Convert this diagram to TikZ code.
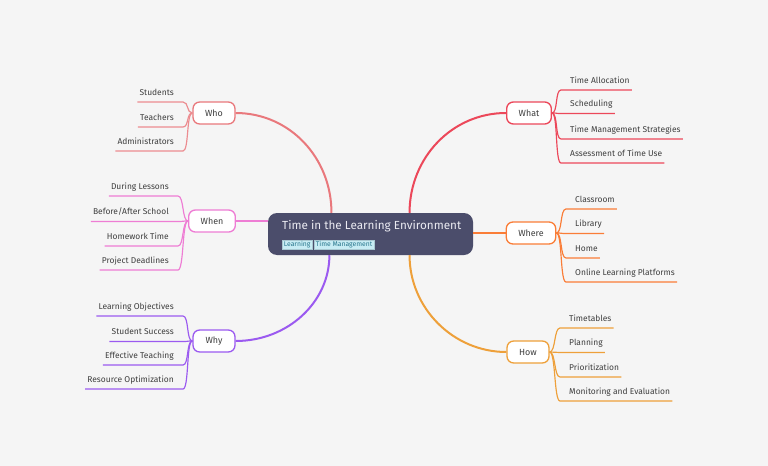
\documentclass[tikz,border=0pt]{standalone}
\usepackage{fontspec}
\setmainfont{Fira Sans}
\usetikzlibrary{calc}
\definecolor{paperGray}{RGB}{245,245,245}
\definecolor{slateBox}{RGB}{75,77,107}
\definecolor{titleInk}{RGB}{235,235,242}
\definecolor{tagFill}{RGB}{200,236,244}
\definecolor{tagInk}{RGB}{40,118,140}
\definecolor{leafInk}{RGB}{62,62,62}
\definecolor{whoRed}{RGB}{233,120,124}
\definecolor{whenPink}{RGB}{238,125,212}
\definecolor{whyPurple}{RGB}{155,90,240}
\definecolor{whatRed}{RGB}{236,72,90}
\definecolor{whereOrange}{RGB}{250,125,55}
\definecolor{howAmber}{RGB}{238,160,58}
\tikzset{
  centreBox/.style={
    fill=slateBox,
    rounded corners=2.7mm,
    minimum width=61.5mm,
    minimum height=12.6mm
  },
  titleText/.style={
    anchor=west,
    inner sep=0pt,
    font=\fontsize{10}{12}\selectfont\color{titleInk}
  },
  tagBox/.style={
    anchor=west,
    fill=tagFill,
    draw=tagInk!40,
    line width=0.15mm,
    inner xsep=0.5mm,
    inner ysep=0pt,
    minimum height=2.7mm,
    font=\fontsize{5.8}{6}\selectfont\color{tagInk}
  },
  topicNode/.style={
    fill=white,
    line width=0.4mm,
    rounded corners=2mm,
    minimum width=12.6mm,
    minimum height=6.6mm,
    inner xsep=3.6mm,
    inner ysep=0pt,
    font=\fontsize{7.6}{9}\selectfont\color{leafInk}
  },
  leafLeft/.style={
    anchor=south east,
    inner xsep=0.6mm,
    inner ysep=2mm,
    text height=2mm,
    text depth=0pt,
    font=\fontsize{7.2}{9}\selectfont\color{leafInk}
  },
  leafRight/.style={
    leafLeft,
    anchor=south west
  },
  mainLine/.style={line width=0.6mm},
  leafLine/.style={line width=0.35mm}
}

\begin{document}
\begin{tikzpicture}[x=0.3mm, y=-0.3mm]
  % Paper
  \useasboundingbox (0,0) rectangle (768,466);
  \fill[paperGray] (0,0) rectangle (768,466);

  % Central topic
  \node[centreBox] (centre) at (370.5,234) {};
  \node[titleText] (title) at (282,226) {Time in the Learning Environment};
  \node[tagBox] (tagA) at (282,244.5) {Learning};
  \node[tagBox] (tagB) at ($(tagA.east)+(1.5,0)$) {Time Management};

  % Main topics
  \node[topicNode, draw=whoRed] (who) at (214,113) {Who};
  \node[topicNode, draw=whenPink] (when) at (212,221) {When};
  \node[topicNode, draw=whyPurple] (why) at (214,341) {Why};
  \node[topicNode, draw=whatRed] (what) at (529,113) {What};
  \node[topicNode, draw=whereOrange] (where) at (531,233) {Where};
  \node[topicNode, draw=howAmber] (how) at (528,352) {How};

  % Main connectors
  \draw[mainLine, whoRed] ($(centre.north west)!0.31!(centre.north east)$)
    .. controls +(0,-55) and +(54,0) .. (who.east);
  \draw[mainLine, whenPink] (centre.west |- when.east) -- (when.east);
  \draw[mainLine, whyPurple] ($(centre.south west)!0.30!(centre.south east)$)
    .. controls +(0,47) and +(52,0) .. (why.east);
  \draw[mainLine, whatRed] ($(centre.north west)!0.69!(centre.north east)$)
    .. controls +(0,-55) and +(-54,0) .. (what.west);
  \draw[mainLine, whereOrange] (centre.east |- where.west) -- (where.west);
  \draw[mainLine, howAmber] ($(centre.south west)!0.69!(centre.south east)$)
    .. controls +(0,53) and +(-53,0) .. (how.west);

  % Who
  \node[leafLeft] (students) at (176,102) {Students};
  \node[leafLeft] (teachers) at (176,127) {Teachers};
  \node[leafLeft] (admins) at (176,151) {Administrators};
  \draw[leafLine, whoRed!85] (who.west) .. controls +(-6,0) and +(6,0) .. ($(students.south east)+(7,0)$) -- (students.south west);
  \draw[leafLine, whoRed!85] (who.west) .. controls +(-6,0) and +(6,0) .. ($(teachers.south east)+(7,0)$) -- (teachers.south west);
  \draw[leafLine, whoRed!85] (who.west) .. controls +(-6,0) and +(6,0) .. ($(admins.south east)+(7,0)$) -- (admins.south west);

  % When
  \node[leafLeft] (lessons) at (171,196) {During Lessons};
  \node[leafLeft] (school) at (171,221.5) {Before/After School};
  \node[leafLeft] (homework) at (171,246) {Homework Time};
  \node[leafLeft] (deadlines) at (171,270) {Project Deadlines};
  \draw[leafLine, whenPink] (when.west) .. controls +(-6,0) and +(6,0) .. ($(lessons.south east)+(7,0)$) -- (lessons.south west);
  \draw[leafLine, whenPink] (when.west) .. controls +(-6,0) and +(6,0) .. ($(school.south east)+(7,0)$) -- (school.south west);
  \draw[leafLine, whenPink] (when.west) .. controls +(-6,0) and +(6,0) .. ($(homework.south east)+(7,0)$) -- (homework.south west);
  \draw[leafLine, whenPink] (when.west) .. controls +(-6,0) and +(6,0) .. ($(deadlines.south east)+(7,0)$) -- (deadlines.south west);

  % Why
  \node[leafLeft] (objectives) at (176,316) {Learning Objectives};
  \node[leafLeft] (success) at (176,341.5) {Student Success};
  \node[leafLeft] (teaching) at (176,365) {Effective Teaching};
  \node[leafLeft] (resources) at (176,389) {Resource Optimization};
  \draw[leafLine, whyPurple] (why.west) .. controls +(-6,0) and +(6,0) .. ($(objectives.south east)+(7,0)$) -- (objectives.south west);
  \draw[leafLine, whyPurple] (why.west) .. controls +(-6,0) and +(6,0) .. ($(success.south east)+(7,0)$) -- (success.south west);
  \draw[leafLine, whyPurple] (why.west) .. controls +(-6,0) and +(6,0) .. ($(teaching.south east)+(7,0)$) -- (teaching.south west);
  \draw[leafLine, whyPurple] (why.west) .. controls +(-6,0) and +(6,0) .. ($(resources.south east)+(7,0)$) -- (resources.south west);

  % What
  \node[leafRight] (allocation) at (568,90) {Time Allocation};
  \node[leafRight] (scheduling) at (568,113.5) {Scheduling};
  \node[leafRight] (strategies) at (568,139) {Time Management Strategies};
  \node[leafRight] (assessment) at (568,163) {Assessment of Time Use};
  \draw[leafLine, whatRed] (what.east) .. controls +(6,0) and +(-6,0) .. ($(allocation.south west)+(-7,0)$) -- (allocation.south east);
  \draw[leafLine, whatRed] (what.east) .. controls +(6,0) and +(-6,0) .. ($(scheduling.south west)+(-7,0)$) -- (scheduling.south east);
  \draw[leafLine, whatRed] (what.east) .. controls +(6,0) and +(-6,0) .. ($(strategies.south west)+(-7,0)$) -- (strategies.south east);
  \draw[leafLine, whatRed] (what.east) .. controls +(6,0) and +(-6,0) .. ($(assessment.south west)+(-7,0)$) -- (assessment.south east);

  % Where
  \node[leafRight] (classroom) at (573,209) {Classroom};
  \node[leafRight] (library) at (573,233.5) {Library};
  \node[leafRight] (home) at (573,258) {Home};
  \node[leafRight] (online) at (573,282) {Online Learning Platforms};
  \draw[leafLine, whereOrange] (where.east) .. controls +(6,0) and +(-6,0) .. ($(classroom.south west)+(-7,0)$) -- (classroom.south east);
  \draw[leafLine, whereOrange] (where.east) .. controls +(6,0) and +(-6,0) .. ($(library.south west)+(-7,0)$) -- (library.south east);
  \draw[leafLine, whereOrange] (where.east) .. controls +(6,0) and +(-6,0) .. ($(home.south west)+(-7,0)$) -- (home.south east);
  \draw[leafLine, whereOrange] (where.east) .. controls +(6,0) and +(-6,0) .. ($(online.south west)+(-7,0)$) -- (online.south east);

  % How
  \node[leafRight] (timetables) at (567,328) {Timetables};
  \node[leafRight] (planning) at (567,352.5) {Planning};
  \node[leafRight] (priorities) at (567,377) {Prioritization};
  \node[leafRight] (monitoring) at (567,401) {Monitoring and Evaluation};
  \draw[leafLine, howAmber] (how.east) .. controls +(6,0) and +(-6,0) .. ($(timetables.south west)+(-7,0)$) -- (timetables.south east);
  \draw[leafLine, howAmber] (how.east) .. controls +(6,0) and +(-6,0) .. ($(planning.south west)+(-7,0)$) -- (planning.south east);
  \draw[leafLine, howAmber] (how.east) .. controls +(6,0) and +(-6,0) .. ($(priorities.south west)+(-7,0)$) -- (priorities.south east);
  \draw[leafLine, howAmber] (how.east) .. controls +(6,0) and +(-6,0) .. ($(monitoring.south west)+(-7,0)$) -- (monitoring.south east);
\end{tikzpicture}
\end{document}
